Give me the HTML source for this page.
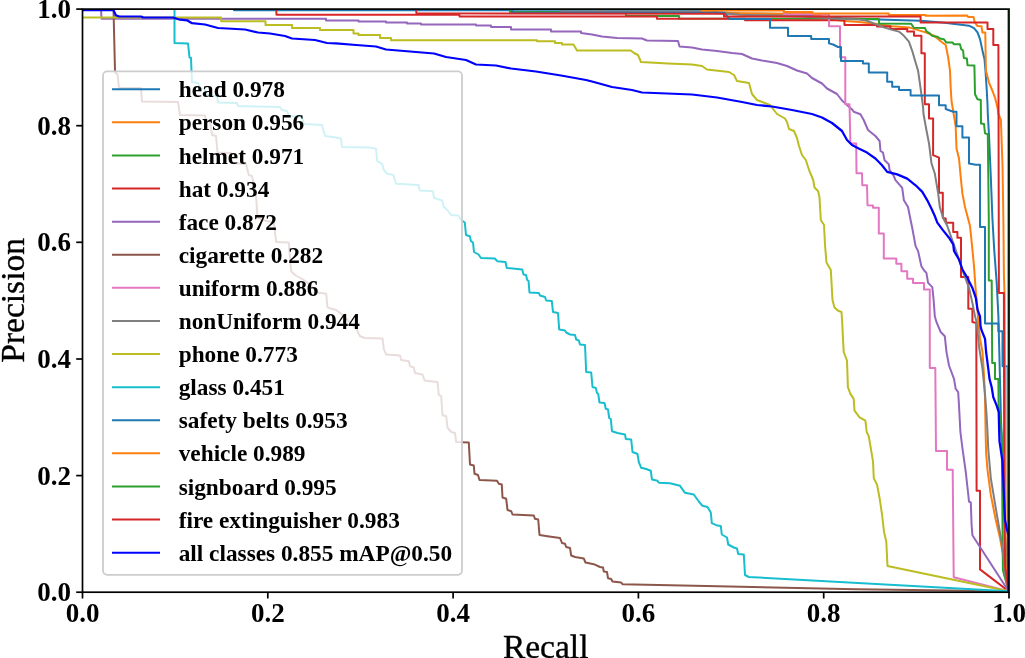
<!DOCTYPE html>
<html><head><meta charset="utf-8"><title>PR curve</title>
<style>
html,body{margin:0;padding:0;background:#fff;}
body{width:1025px;height:658px;overflow:hidden;position:relative;font-family:"Liberation Serif","Times New Roman",serif;}
svg{position:absolute;left:0;top:0;display:block;}
text{font-family:"Liberation Serif","Times New Roman",serif;fill:#000;}
.tick{font-weight:bold;font-size:27px;}
.lab{font-size:33.5px;stroke:#000;stroke-width:0.35px;}
.leg{font-weight:bold;font-size:23.3px;}
.c{fill:none;stroke-linejoin:round;stroke-linecap:butt;}
</style></head><body>
<svg width="1025" height="658" viewBox="0 0 1025 658">
<rect x="0" y="0" width="1025" height="658" fill="#fff"/>
<g clip-path="url(#cp)">
<defs><clipPath id="cp"><rect x="82.5" y="9.1" width="926.5" height="583.1"/></clipPath></defs>
<path class="c" d="M82.5 9.1 L234.0 9.1 L234.0 10.2 L510.0 10.2 L512.5 11.3 L703.0 11.3 L740.0 13.4 L783.0 14.0 L842.0 18.2 L878.8 19.4 L920.6 20.7 L942.3 22.4 L959.0 24.4 L969.0 25.7 L974.0 28.2 L977.5 32.4 L980.0 39.1 L982.5 50.8 L984.5 59.2 L985.5 70.9 L986.6 87.6 L987.5 104.3 L987.8 114.0 L989.0 135.0 L990.8 176.9 L992.5 220.0 L994.2 249.4 L996.7 282.9 L998.4 316.3 L999.0 340.0 L1000.0 380.0 L1001.0 420.0 L1003.0 470.0 L1005.0 530.0 L1008.6 591.3" stroke="#1f77b4" stroke-width="2.0"/>
<path class="c" d="M82.5 9.1 L600.0 9.1 L600.0 12.0 L812.0 14.0 L830.0 19.0 L842.0 20.7 L858.7 22.0 L875.4 23.7 L892.2 26.2 L909.0 27.4 L917.3 29.9 L925.6 32.4 L934.0 35.8 L942.3 42.5 L945.7 45.0 L948.2 57.5 L950.0 70.9 L950.7 87.6 L951.5 101.0 L953.2 111.0 L953.7 114.0 L955.7 126.7 L956.5 148.5 L959.0 158.5 L960.7 176.9 L962.4 193.6 L965.0 207.0 L967.4 216.0 L970.0 226.0 L972.4 249.4 L974.0 266.2 L975.8 291.3 L977.5 309.6 L978.3 322.0 L980.0 338.7 L982.5 352.0 L983.8 372.0 L985.0 397.0 L985.6 432.0 L986.1 453.0 L987.5 469.8 L990.8 494.9 L995.8 520.0 L1000.0 538.0 L1002.5 551.9 L1008.6 591.3" stroke="#ff7f0e" stroke-width="2.0"/>
<path class="c" d="M82.5 9.1 L510.0 9.1 L510.0 12.1 L626.0 12.1 L626.0 16.1 L679.0 16.1 L679.0 18.6 L842.0 18.7 L879.0 18.9 L879.0 23.6 L911.2 23.8 L913.8 27.8 L925.0 27.9 L926.2 31.1 L930.0 33.6 L932.5 36.1 L937.5 36.8 L940.0 38.6 L943.8 39.2 L946.2 42.4 L952.5 42.4 L953.8 44.2 L960.0 44.2 L961.2 49.2 L963.1 50.5 L963.8 58.0 L966.9 58.6 L967.5 65.2 L974.4 65.5 L975.0 94.3 L977.5 99.3 L980.8 100.0 L981.0 123.4 L984.0 124.0 L985.0 133.4 L987.8 134.2 L988.8 220.0 L988.8 280.4 L991.7 280.4 L992.2 363.0 L995.0 363.0 L995.0 378.9 L998.4 378.9 L998.6 405.0 L1001.7 435.0 L1002.2 490.0 L1002.9 570.3 L1008.6 591.3" stroke="#2ca02c" stroke-width="2.0"/>
<path class="c" d="M82.5 9.1 L276.2 9.1 L276.5 14.8 L459.4 14.8 L459.6 16.5 L656.8 16.5 L657.0 18.8 L745.0 18.8 L745.0 20.2 L844.4 20.2 L844.5 24.9 L877.0 24.9 L877.0 26.6 L890.5 26.6 L890.5 29.1 L907.2 29.1 L907.2 31.6 L914.0 31.6 L914.0 35.8 L921.4 35.8 L921.4 53.3 L924.8 53.3 L924.8 104.3 L929.0 104.3 L929.0 118.4 L933.1 118.4 L933.1 155.2 L939.0 157.7 L939.0 192.8 L942.8 192.8 L942.8 217.9 L945.7 218.5 L946.0 222.7 L953.2 222.7 L953.2 231.9 L957.4 231.9 L957.4 237.7 L961.0 237.7 L961.0 277.0 L968.3 277.0 L968.3 308.8 L972.4 308.8 L972.4 322.0 L976.3 323.0 L976.6 490.7 L980.0 490.7 L980.0 569.4 L1008.6 591.3" stroke="#d62728" stroke-width="2.0"/>
<path class="c" d="M82.5 9.1 L101.0 9.1 L101.5 18.8 L326.0 18.8 L326.0 20.5 L358.5 20.5 L358.5 21.5 L386.0 21.5 L386.0 22.5 L407.0 22.5 L407.0 23.5 L421.0 23.5 L421.0 24.5 L476.0 24.5 L476.0 25.5 L491.0 25.5 L491.0 27.0 L511.0 27.0 L511.0 29.5 L551.0 29.5 L551.0 31.5 L581.0 31.5 L581.0 33.0 L592.0 34.5 L602.0 36.5 L617.0 38.0 L642.0 38.5 L647.0 40.5 L678.0 41.0 L679.5 46.5 L692.0 47.5 L702.0 49.5 L717.0 51.0 L732.0 53.0 L742.0 54.0 L752.0 58.5 L762.0 60.5 L777.0 63.0 L787.0 66.0 L797.0 70.5 L807.0 73.5 L812.0 78.0 L822.0 83.5 L827.0 88.5 L837.0 94.0 L842.0 100.5 L847.0 105.0 L852.0 109.4 L853.7 111.7 L860.4 114.2 L863.7 120.0 L868.0 130.0 L875.4 136.0 L879.6 141.0 L880.5 151.0 L883.0 152.6 L884.6 160.2 L888.8 164.3 L889.6 170.2 L893.8 176.0 L895.5 180.2 L902.2 187.8 L903.9 200.3 L908.0 207.0 L910.6 220.0 L912.2 227.7 L915.6 246.1 L918.1 251.1 L921.4 266.2 L924.0 270.3 L926.4 272.9 L928.1 282.9 L932.3 287.1 L933.6 299.6 L934.8 316.3 L936.5 322.2 L940.7 332.0 L944.8 336.2 L946.5 352.1 L949.0 365.5 L954.0 378.9 L955.7 388.9 L958.2 392.2 L959.0 405.6 L960.4 432.0 L962.4 448.0 L965.7 471.5 L968.3 494.9 L969.0 501.7 L970.8 502.5 L971.6 525.0 L972.4 535.2 L1008.6 591.3" stroke="#9467bd" stroke-width="2.0"/>
<path class="c" d="M82.5 9.1 L113.5 9.1 L115.0 71.0 L115.5 73.0 L117.5 74.0 L119.0 88.0 L141.0 88.0 L142.0 101.5 L178.0 102.0 L180.0 115.0 L205.0 115.5 L206.0 121.0 L210.0 121.0 L211.0 128.0 L212.0 135.0 L216.0 136.0 L217.5 152.5 L231.0 153.0 L232.0 163.0 L246.0 164.0 L248.8 175.0 L252.0 176.0 L256.0 195.0 L257.5 217.5 L262.5 220.0 L273.8 222.5 L276.2 242.0 L288.8 242.5 L290.5 265.0 L291.2 271.2 L295.0 275.0 L303.8 280.0 L308.8 283.8 L317.5 292.5 L326.2 293.8 L327.5 307.5 L336.2 310.0 L341.2 313.8 L356.2 328.8 L360.0 336.2 L365.0 338.0 L382.5 338.5 L383.8 348.8 L386.2 354.5 L400.0 355.5 L401.2 360.0 L408.8 361.2 L410.0 366.2 L413.8 367.5 L415.0 373.0 L422.5 374.5 L424.5 380.5 L437.5 382.0 L438.8 395.0 L441.2 396.2 L442.5 415.0 L446.2 416.2 L447.5 427.5 L451.2 432.0 L455.0 433.0 L456.2 442.0 L468.8 442.5 L470.0 464.5 L473.8 465.5 L474.5 473.8 L478.0 475.0 L479.5 480.0 L497.0 480.8 L498.8 483.8 L501.8 484.5 L502.5 497.5 L506.2 498.8 L507.5 510.0 L511.2 511.2 L512.5 514.5 L533.8 515.5 L535.0 518.8 L538.2 519.5 L539.5 535.0 L547.5 536.2 L560.0 538.0 L562.0 543.0 L565.0 543.8 L566.2 547.0 L570.0 548.0 L571.2 555.5 L575.0 557.0 L583.8 558.5 L585.5 562.5 L593.8 564.2 L600.0 567.0 L603.0 567.5 L603.8 571.5 L607.0 572.0 L608.0 578.2 L611.2 579.0 L612.5 581.5 L621.2 582.5 L622.5 584.2 L706.0 586.0 L856.0 589.3 L1008.6 591.3" stroke="#8c564b" stroke-width="2.0"/>
<path class="c" d="M82.5 9.1 L783.8 9.1 L783.8 14.6 L829.0 14.6 L829.0 26.2 L840.0 26.2 L840.0 57.2 L845.3 57.2 L845.3 104.3 L849.5 104.3 L850.4 143.4 L856.2 143.4 L856.5 173.2 L862.0 173.2 L862.3 185.3 L867.0 185.3 L867.5 205.3 L873.0 205.5 L873.0 207.8 L878.8 207.8 L878.8 233.6 L883.8 233.6 L883.8 258.6 L896.3 258.6 L896.3 263.7 L901.4 263.7 L901.4 271.2 L907.2 271.2 L907.2 278.7 L913.0 278.7 L913.0 282.9 L924.0 282.9 L924.0 289.6 L929.8 289.6 L929.8 368.0 L935.3 368.0 L936.0 451.0 L947.0 451.0 L947.0 469.8 L952.7 469.8 L953.7 577.3 L1008.6 591.3" stroke="#e377c2" stroke-width="2.0"/>
<path class="c" d="M82.5 9.1 L560.0 9.1 L560.0 11.2 L700.0 11.5 L740.0 14.8 L800.0 16.5 L842.0 19.0 L858.7 19.4 L867.0 20.7 L875.4 24.1 L883.8 27.4 L892.2 29.9 L898.9 31.6 L903.9 35.8 L908.9 41.6 L912.2 50.8 L915.6 62.5 L918.1 70.9 L919.8 82.6 L921.4 94.3 L923.1 107.7 L923.5 114.0 L926.4 130.0 L929.0 143.4 L931.5 163.5 L934.8 173.5 L938.2 193.6 L939.8 207.0 L942.3 215.3 L943.2 218.0 L947.3 226.0 L953.2 242.8 L959.0 259.5 L964.0 274.5 L969.0 287.9 L972.4 303.0 L975.0 316.3 L976.6 322.0 L979.1 347.0 L982.5 368.8 L985.0 393.9 L986.6 415.6 L987.5 432.0 L988.3 449.7 L990.8 478.2 L995.8 508.3 L1000.9 538.0 L1002.5 548.5 L1006.0 580.0 L1008.6 591.3" stroke="#7f7f7f" stroke-width="2.0"/>
<path class="c" d="M82.5 17.5 L221.2 17.5 L221.2 21.2 L265.5 21.2 L265.5 25.0 L292.0 25.0 L292.0 28.0 L320.0 28.0 L320.0 30.0 L353.5 30.0 L353.5 33.5 L358.5 33.5 L358.5 35.0 L380.0 35.0 L380.0 38.0 L391.0 38.0 L391.0 40.2 L537.0 40.2 L537.0 41.2 L555.0 41.2 L555.0 43.0 L562.0 43.0 L562.0 44.5 L573.5 44.5 L577.0 50.5 L630.8 50.5 L634.0 53.0 L638.0 55.0 L641.0 62.0 L668.0 63.5 L692.0 64.5 L702.0 66.0 L707.0 69.5 L729.0 72.0 L734.0 75.0 L737.0 81.0 L749.0 83.0 L752.0 94.0 L757.0 100.0 L770.0 105.0 L777.0 114.0 L785.0 118.5 L787.0 122.0 L789.0 129.0 L794.0 131.0 L797.0 138.0 L799.0 146.0 L802.0 155.0 L805.8 160.0 L809.5 171.2 L813.2 180.0 L814.5 187.5 L818.2 191.2 L819.5 197.5 L820.8 220.0 L824.0 225.0 L825.0 245.0 L826.5 262.5 L830.8 270.0 L832.5 300.0 L834.5 307.5 L838.2 310.8 L841.5 312.0 L842.3 324.0 L842.8 335.0 L843.7 352.0 L847.0 360.5 L847.9 387.2 L850.4 393.9 L853.7 398.9 L854.5 410.6 L859.6 417.3 L865.4 420.7 L866.7 432.0 L868.8 436.4 L873.0 461.4 L873.8 478.2 L877.1 484.9 L879.6 498.2 L882.1 515.0 L884.0 531.7 L886.3 541.8 L887.5 566.0 L1008.6 591.3" stroke="#bcbd22" stroke-width="2.0"/>
<path class="c" d="M82.5 9.1 L174.5 9.1 L174.5 43.0 L188.0 43.5 L189.5 57.5 L191.0 58.0 L191.5 71.0 L192.0 82.0 L198.0 83.0 L200.0 88.0 L205.0 89.0 L207.0 95.0 L217.0 96.0 L218.0 102.5 L237.0 103.0 L238.0 106.0 L280.0 107.0 L282.0 110.0 L287.0 111.0 L289.0 116.0 L302.0 117.0 L304.0 124.0 L322.0 125.0 L325.0 136.0 L336.0 137.5 L341.0 138.8 L342.0 147.0 L369.8 147.5 L376.0 148.8 L377.2 161.2 L382.2 163.8 L383.5 169.5 L387.2 173.8 L393.5 175.0 L396.0 183.8 L418.5 185.0 L419.8 190.5 L433.0 191.2 L434.0 198.0 L442.2 200.5 L443.5 206.2 L447.2 210.0 L451.0 215.0 L458.5 215.5 L461.0 220.0 L464.8 222.5 L466.0 235.0 L469.8 236.2 L471.0 241.2 L473.0 242.5 L474.0 252.0 L478.5 254.5 L481.0 258.0 L494.8 258.5 L497.2 261.2 L505.5 262.0 L506.8 268.0 L522.2 269.5 L523.5 274.5 L526.0 275.0 L527.2 280.0 L528.5 280.8 L529.5 292.5 L538.8 293.0 L540.0 295.5 L545.0 297.0 L546.2 300.5 L551.8 301.0 L553.0 312.0 L558.0 313.0 L559.2 329.5 L565.0 330.5 L566.2 332.5 L570.0 334.5 L575.0 335.0 L576.2 339.5 L578.8 340.5 L580.0 344.5 L585.0 345.0 L586.2 372.0 L591.2 372.5 L592.5 387.0 L595.8 388.0 L597.0 393.0 L598.2 393.8 L599.5 402.5 L604.5 403.0 L605.8 408.8 L608.0 409.5 L609.2 418.0 L610.8 419.0 L612.0 431.2 L617.5 433.0 L625.0 434.5 L625.8 439.0 L631.2 439.5 L632.5 452.0 L637.5 454.0 L638.8 462.0 L641.2 467.8 L646.2 469.0 L650.8 470.8 L652.0 479.5 L657.5 480.8 L658.8 482.8 L670.0 483.2 L680.0 485.8 L685.0 492.8 L693.8 494.5 L698.8 501.5 L702.5 505.8 L707.5 507.0 L710.8 512.5 L711.8 523.2 L716.2 525.2 L720.8 526.0 L721.8 534.5 L727.0 537.5 L728.2 544.5 L733.8 547.5 L737.0 548.5 L738.2 554.0 L743.8 554.5 L745.0 575.0 L748.8 577.0 L1008.6 591.3" stroke="#17becf" stroke-width="2.0"/>
<path class="c" d="M82.5 9.1 L512.5 9.1 L512.5 12.5 L724.5 13.0 L729.5 18.9 L770.0 19.0 L770.0 27.8 L788.0 27.8 L788.0 35.9 L811.2 35.9 L811.2 39.0 L829.0 39.0 L829.0 43.4 L833.0 44.5 L838.0 47.0 L841.0 47.0 L841.0 60.9 L863.0 60.9 L863.0 63.4 L868.8 63.4 L868.8 72.6 L887.2 72.6 L887.2 81.8 L892.2 81.8 L892.2 86.8 L899.0 86.8 L899.0 90.1 L910.6 90.1 L910.6 95.6 L939.0 95.6 L939.0 105.2 L945.7 105.2 L945.7 109.0 L953.2 111.7 L956.5 111.7 L956.5 126.2 L962.4 126.2 L962.4 137.6 L969.0 137.6 L969.0 163.5 L975.8 164.8 L980.0 164.8 L980.0 226.9 L985.0 226.9 L985.0 323.4 L998.4 323.4 L998.4 331.2 L1002.5 331.2 L1002.5 366.3 L1007.6 366.3 L1007.8 500.0 L1008.6 591.3" stroke="#1f77b4" stroke-width="2.0"/>
<path class="c" d="M82.5 9.1 L700.0 9.1 L703.0 10.5 L783.8 10.5 L783.8 12.1 L812.5 12.1 L812.5 13.5 L888.8 13.5 L888.8 14.9 L925.6 14.9 L925.6 15.7 L967.2 15.6 L968.0 16.9 L973.5 16.9 L974.5 21.5 L976.6 25.0 L977.5 26.0 L981.5 26.2 L982.5 32.5 L985.3 32.5 L985.6 54.0 L986.0 71.0 L989.0 82.6 L992.5 91.0 L995.0 97.6 L997.5 107.7 L998.4 114.0 L1000.9 120.0 L1002.5 165.2 L1003.4 220.0 L1003.9 274.5 L1004.5 293.0 L1005.2 400.0 L1005.7 565.0 L1008.6 591.3" stroke="#ff7f0e" stroke-width="2.0"/>
<path class="c" d="M82.5 9.1 L1008.4 9.1 L1008.4 591.0" stroke="#2ca02c" stroke-width="2.0"/>
<path class="c" d="M82.5 9.1 L416.0 9.1 L416.5 13.3 L724.0 13.8 L724.0 16.5 L920.6 16.5 L920.6 22.4 L987.5 22.4 L987.5 29.0 L993.3 29.0 L993.3 45.0 L998.4 45.0 L998.9 292.9 L1003.9 292.9 L1004.2 490.0 L1005.0 565.0 L1008.6 591.3" stroke="#d62728" stroke-width="2.0"/>
<path class="c" d="M82.5 10.2 L113.5 10.2 L116.0 15.5 L119.0 16.3 L141.0 16.5 L143.0 17.4 L173.0 17.5 L180.0 19.7 L187.0 20.3 L192.0 23.2 L205.0 24.5 L218.0 28.0 L245.0 29.5 L258.0 32.5 L270.0 33.5 L285.0 36.0 L292.0 38.5 L315.0 40.0 L327.0 43.0 L336.0 43.3 L356.0 45.0 L376.0 46.5 L386.0 49.5 L410.0 51.5 L434.0 53.5 L446.0 57.0 L466.0 60.0 L476.0 64.5 L496.0 65.5 L511.0 68.5 L536.0 71.5 L561.0 75.5 L586.0 80.0 L592.0 81.5 L612.0 87.0 L632.0 90.0 L642.0 92.5 L692.0 94.5 L717.0 97.5 L742.0 102.0 L757.0 105.0 L772.0 106.5 L792.0 110.0 L812.0 114.0 L822.0 117.5 L832.0 123.0 L842.0 131.0 L847.0 140.0 L852.0 145.0 L858.7 148.5 L867.0 152.6 L875.4 158.5 L882.0 165.2 L887.2 171.9 L897.2 174.4 L907.2 178.6 L915.6 185.3 L922.3 191.9 L927.3 200.3 L931.5 208.7 L934.8 216.0 L937.3 222.7 L942.3 229.4 L949.0 237.7 L953.2 244.4 L954.0 251.0 L959.0 259.5 L962.4 269.5 L967.4 277.9 L972.4 287.9 L975.8 297.9 L977.5 309.6 L980.0 316.3 L980.5 326.0 L981.6 330.4 L985.0 338.7 L986.1 352.0 L988.3 368.8 L989.5 378.9 L991.7 387.2 L993.3 397.3 L996.7 405.6 L998.7 412.3 L999.2 432.0 L999.5 441.4 L1002.5 461.4 L1003.9 494.9 L1005.0 520.0 L1006.7 528.3 L1008.4 535.0 L1008.6 591.3" stroke="#0000ff" stroke-width="2.25"/>
</g>
<rect x="82.5" y="9.1" width="926.5" height="583.1" fill="none" stroke="#000" stroke-width="1.7"/>
<line x1="82.5" y1="592.2" x2="82.5" y2="598.5" stroke="#000" stroke-width="1.7"/>
<line x1="76.2" y1="592.2" x2="82.5" y2="592.2" stroke="#000" stroke-width="1.7"/>
<text class="tick" x="82.5" y="622.2" text-anchor="middle">0.0</text>
<text class="tick" x="71" y="601.3" text-anchor="end">0.0</text>
<line x1="267.8" y1="592.2" x2="267.8" y2="598.5" stroke="#000" stroke-width="1.7"/>
<line x1="76.2" y1="475.6" x2="82.5" y2="475.6" stroke="#000" stroke-width="1.7"/>
<text class="tick" x="267.8" y="622.2" text-anchor="middle">0.2</text>
<text class="tick" x="71" y="484.7" text-anchor="end">0.2</text>
<line x1="453.1" y1="592.2" x2="453.1" y2="598.5" stroke="#000" stroke-width="1.7"/>
<line x1="76.2" y1="359.0" x2="82.5" y2="359.0" stroke="#000" stroke-width="1.7"/>
<text class="tick" x="453.1" y="622.2" text-anchor="middle">0.4</text>
<text class="tick" x="71" y="368.1" text-anchor="end">0.4</text>
<line x1="638.4" y1="592.2" x2="638.4" y2="598.5" stroke="#000" stroke-width="1.7"/>
<line x1="76.2" y1="242.3" x2="82.5" y2="242.3" stroke="#000" stroke-width="1.7"/>
<text class="tick" x="638.4" y="622.2" text-anchor="middle">0.6</text>
<text class="tick" x="71" y="251.4" text-anchor="end">0.6</text>
<line x1="823.7" y1="592.2" x2="823.7" y2="598.5" stroke="#000" stroke-width="1.7"/>
<line x1="76.2" y1="125.7" x2="82.5" y2="125.7" stroke="#000" stroke-width="1.7"/>
<text class="tick" x="823.7" y="622.2" text-anchor="middle">0.8</text>
<text class="tick" x="71" y="134.8" text-anchor="end">0.8</text>
<line x1="1009.0" y1="592.2" x2="1009.0" y2="598.5" stroke="#000" stroke-width="1.7"/>
<line x1="76.2" y1="9.1" x2="82.5" y2="9.1" stroke="#000" stroke-width="1.7"/>
<text class="tick" x="1009.0" y="622.2" text-anchor="middle">1.0</text>
<text class="tick" x="71" y="18.2" text-anchor="end">1.0</text>
<text class="lab" x="545.7" y="657.8" text-anchor="middle">Recall</text>
<text class="lab" transform="translate(24.2 300.4) rotate(-90)" text-anchor="middle">Precision</text>
<rect x="103" y="71.3" width="359" height="503.5" rx="4.2" ry="4.2" fill="#fff" fill-opacity="0.8" stroke="#cdcdcd" stroke-width="1.8"/>
<line x1="112" y1="89.25" x2="160" y2="89.25" stroke="#1f77b4" stroke-width="2.0"/>
<text class="leg" x="178.7" y="97.35">head 0.978</text>
<line x1="112" y1="122.35" x2="160" y2="122.35" stroke="#ff7f0e" stroke-width="2.0"/>
<text class="leg" x="178.7" y="130.45">person 0.956</text>
<line x1="112" y1="155.45" x2="160" y2="155.45" stroke="#2ca02c" stroke-width="2.0"/>
<text class="leg" x="178.7" y="163.55">helmet 0.971</text>
<line x1="112" y1="188.55" x2="160" y2="188.55" stroke="#d62728" stroke-width="2.0"/>
<text class="leg" x="178.7" y="196.65">hat 0.934</text>
<line x1="112" y1="221.65" x2="160" y2="221.65" stroke="#9467bd" stroke-width="2.0"/>
<text class="leg" x="178.7" y="229.75">face 0.872</text>
<line x1="112" y1="254.75" x2="160" y2="254.75" stroke="#8c564b" stroke-width="2.0"/>
<text class="leg" x="178.7" y="262.85">cigarette 0.282</text>
<line x1="112" y1="287.85" x2="160" y2="287.85" stroke="#e377c2" stroke-width="2.0"/>
<text class="leg" x="178.7" y="295.95">uniform 0.886</text>
<line x1="112" y1="320.95" x2="160" y2="320.95" stroke="#7f7f7f" stroke-width="2.0"/>
<text class="leg" x="178.7" y="329.05">nonUniform 0.944</text>
<line x1="112" y1="354.05" x2="160" y2="354.05" stroke="#bcbd22" stroke-width="2.0"/>
<text class="leg" x="178.7" y="362.15">phone 0.773</text>
<line x1="112" y1="387.15" x2="160" y2="387.15" stroke="#17becf" stroke-width="2.0"/>
<text class="leg" x="178.7" y="395.25">glass 0.451</text>
<line x1="112" y1="420.25" x2="160" y2="420.25" stroke="#1f77b4" stroke-width="2.0"/>
<text class="leg" x="178.7" y="428.35">safety belts 0.953</text>
<line x1="112" y1="453.35" x2="160" y2="453.35" stroke="#ff7f0e" stroke-width="2.0"/>
<text class="leg" x="178.7" y="461.45">vehicle 0.989</text>
<line x1="112" y1="486.45" x2="160" y2="486.45" stroke="#2ca02c" stroke-width="2.0"/>
<text class="leg" x="178.7" y="494.55">signboard 0.995</text>
<line x1="112" y1="519.55" x2="160" y2="519.55" stroke="#d62728" stroke-width="2.0"/>
<text class="leg" x="178.7" y="527.65">fire extinguisher 0.983</text>
<line x1="112" y1="552.65" x2="160" y2="552.65" stroke="#0000ff" stroke-width="2.0"/>
<text class="leg" x="178.7" y="560.75">all classes 0.855 mAP@0.50</text>
</svg>
</body></html>
